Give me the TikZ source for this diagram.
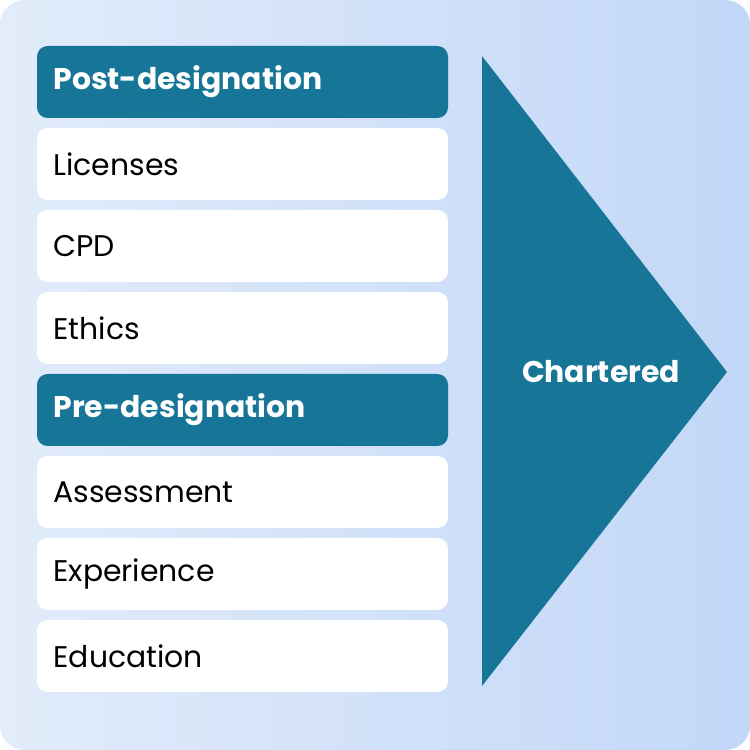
\documentclass[tikz,border=0pt]{standalone}
\usepackage{fontspec}
\setmainfont{Poppins}
\definecolor{teal}{HTML}{177597}
\definecolor{bgleft}{HTML}{E2ECFA}
\definecolor{bgright}{HTML}{C2D7F8}
\tikzset{
  rowbox/.style={draw=none, fill=white, rounded corners=6pt, minimum width=8.22cm,
    minimum height=1.44cm, text width=7.56cm, inner xsep=0.33cm, align=left,
    font=\fontsize{17}{20}\selectfont},
  headbox/.style={rowbox, fill=teal, text=white, font=\fontsize{17}{20}\selectfont\bfseries}
}
\begin{document}
\begin{tikzpicture}
  % background card
  \useasboundingbox (0,0) rectangle (15,15);
  \shade[left color=bgleft, right color=bgright, rounded corners=14pt] (0,0) rectangle (15,15);
  % rows
  \node[headbox] (post) at (4.85,13.36) {Post-designation};
  \node[rowbox] (licenses) at (4.85,11.72) {Licenses};
  \node[rowbox] (cpd) at (4.85,10.08) {CPD};
  \node[rowbox] (ethics) at (4.85,8.44) {Ethics};
  \node[headbox] (pre) at (4.85,6.80) {Pre-designation};
  \node[rowbox] (assessment) at (4.85,5.16) {Assessment};
  \node[rowbox] (experience) at (4.85,3.52) {Experience};
  \node[rowbox] (education) at (4.85,1.88) {Education};
  % arrow
  \fill[teal] (9.64,13.88) -- (14.54,7.56) -- (9.64,1.28) -- cycle;
  \node[text=white, font=\fontsize{17}{20}\selectfont\bfseries] (chartered) at (12.02,7.56) {Chartered};
\end{tikzpicture}
\end{document}
